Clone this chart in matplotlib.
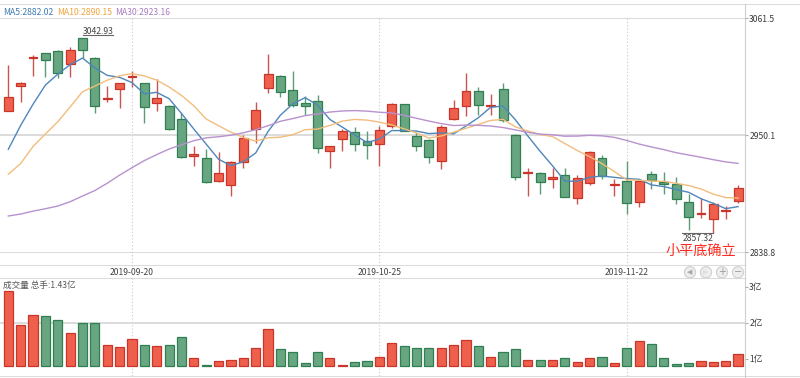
import matplotlib
matplotlib.use('Agg')
import matplotlib.pyplot as plt
import matplotlib.transforms as mtransforms
from matplotlib.patches import Circle
import numpy as np

plt.rcParams['font.family'] = ['Noto Sans CJK SC', 'DejaVu Sans']

# --- data (Shanghai composite, daily) ---
dates = ['2019-09-05', '2019-09-06', '2019-09-09', '2019-09-10', '2019-09-11',
         '2019-09-12', '2019-09-16', '2019-09-17', '2019-09-18', '2019-09-19',
         '2019-09-20', '2019-09-23', '2019-09-24', '2019-09-25', '2019-09-26',
         '2019-09-27', '2019-09-30', '2019-10-08', '2019-10-09', '2019-10-10',
         '2019-10-11', '2019-10-14', '2019-10-15', '2019-10-16', '2019-10-17',
         '2019-10-18', '2019-10-21', '2019-10-22', '2019-10-23', '2019-10-24',
         '2019-10-25', '2019-10-28', '2019-10-29', '2019-10-30', '2019-10-31',
         '2019-11-01', '2019-11-04', '2019-11-05', '2019-11-06', '2019-11-07',
         '2019-11-08', '2019-11-11', '2019-11-12', '2019-11-13', '2019-11-14',
         '2019-11-15', '2019-11-18', '2019-11-19', '2019-11-20', '2019-11-21',
         '2019-11-22', '2019-11-25', '2019-11-26', '2019-11-27', '2019-11-28',
         '2019-11-29', '2019-12-02', '2019-12-03', '2019-12-04', '2019-12-05']

opens = [2973.3, 2997.1, 3023.5, 3027.9, 3030.4, 3017.4, 3042.1, 3023.7, 2984.1, 2993.6,
         3005.3, 2999.3, 2980.3, 2977.7, 2965.1, 2929.8, 2928.6, 2906.7, 2902.6, 2924.8,
         2955.5, 2994.6, 3006.3, 2993.0, 2980.3, 2982.5, 2935.2, 2946.3, 2953.3, 2944.4,
         2941.6, 2958.7, 2979.3, 2949.2, 2945.4, 2925.4, 2965.1, 2977.7, 2992.0, 2978.0,
         2993.9, 2950.1, 2913.7, 2913.7, 2908.3, 2912.1, 2890.5, 2904.1, 2928.6, 2903.0,
         2906.7, 2886.1, 2912.7, 2905.0, 2903.2, 2886.1, 2874.5, 2870.5, 2877.5, 2887.7]
highs = [3016.8, 3000.6, 3026.3, 3028.5, 3031.0, 3034.2, 3042.93, 3024.2, 2996.8, 2999.6,
         3011.4, 3000.0, 3003.4, 2978.3, 2970.8, 2940.0, 2936.8, 2934.3, 2925.2, 2950.1,
         2981.9, 3026.9, 3007.0, 3011.1, 2987.3, 2987.9, 2940.0, 2955.5, 2958.1, 2954.0,
         2958.7, 2981.0, 2980.0, 2953.3, 2946.0, 2959.7, 2983.5, 3009.5, 2995.5, 2989.2,
         2999.3, 2951.0, 2919.0, 2914.5, 2918.4, 2918.4, 2912.1, 2935.0, 2931.1, 2907.9,
         2925.4, 2907.0, 2915.9, 2914.6, 2910.5, 2893.7, 2889.9, 2886.0, 2882.9, 2902.6]
lows = [2973.0, 2981.9, 3006.3, 3005.7, 3004.7, 3005.7, 3023.1, 2971.4, 2981.9, 2975.5,
        2996.1, 2961.3, 2973.3, 2955.0, 2928.0, 2921.0, 2904.2, 2905.0, 2892.4, 2918.4,
        2942.9, 2989.8, 2986.6, 2976.5, 2969.2, 2933.3, 2918.4, 2935.2, 2935.2, 2927.0,
        2921.0, 2957.0, 2954.0, 2935.2, 2923.8, 2917.5, 2964.0, 2968.2, 2969.2, 2969.2,
        2962.8, 2907.3, 2892.4, 2894.0, 2900.0, 2891.0, 2884.5, 2903.0, 2907.9, 2892.4,
        2874.6, 2881.3, 2898.4, 2893.7, 2884.2, 2859.7, 2870.8, 2857.32, 2869.9, 2885.7]
closes = [2985.86, 2999.60, 3024.74, 3021.20, 3008.81, 3031.24, 3030.75, 2978.12, 2985.66, 2999.28,
          3006.45, 2977.08, 2985.34, 2955.43, 2929.09, 2932.17, 2905.19, 2913.57, 2924.86, 2947.71,
          2973.66, 3007.88, 2991.05, 2978.71, 2977.33, 2938.14, 2939.62, 2954.38, 2941.62, 2940.92,
          2954.93, 2980.05, 2954.18, 2939.32, 2929.06, 2958.20, 2975.49, 2991.56, 2978.60, 2978.71,
          2964.18, 2909.97, 2914.82, 2905.24, 2909.87, 2891.34, 2909.20, 2933.99, 2911.05, 2903.64,
          2885.29, 2906.17, 2907.06, 2903.19, 2889.69, 2871.98, 2875.81, 2884.70, 2878.12, 2899.47]
# closes of the 29 sessions before the first candle (for the moving averages)
prior_closes = [2944, 2941, 2953, 2932, 2908, 2868, 2821, 2777, 2768, 2794,
                2774, 2815, 2797, 2808, 2815, 2823, 2883, 2880, 2880, 2883,
                2897, 2863, 2902, 2893, 2890, 2886, 2924, 2930, 2957]
# volume, 亿手
volumes = [2.90, 1.93, 2.21, 2.18, 2.07, 1.71, 1.99, 2.01, 1.38, 1.33,
           1.55, 1.38, 1.35, 1.38, 1.62, 1.01, 0.83, 0.93, 0.96, 1.02,
           1.31, 1.83, 1.26, 1.19, 0.89, 1.19, 1.01, 0.83, 0.91, 0.94,
           1.05, 1.44, 1.37, 1.30, 1.31, 1.30, 1.38, 1.52, 1.35, 1.05,
           1.19, 1.27, 0.97, 0.97, 0.97, 1.02, 0.91, 1.03, 1.05, 0.88,
           1.30, 1.51, 1.41, 1.01, 0.85, 0.88, 0.95, 0.91, 0.94, 1.13]

tick_dates = ['2019-09-20', '2019-10-25', '2019-11-22']
price_ticks = [2838.8, 2950.1, 3061.5]
vol_ticks = [1, 2, 3]
vol_tick_labels = ['1亿', '2亿', '3亿']
ma_periods = [5, 10, 30]
ma_colors = ['#4f86bb', '#f2bd7c', '#b891cf']
ma_text_colors = ['#3f7bb3', '#eea53f', '#a77cc2']
note_text = '小平底确立'
vol_title = '成交量 总手:1.43亿'

UP_FILL, UP_EDGE, UP_WICK = '#ef604c', '#c8352b', '#c75650'
DN_FILL, DN_EDGE, DN_WICK = '#68a682', '#2f7f52', '#5a9d76'
GRID = '#dcdcdc'
FS = 6.2

W, H = 800, 378

o = np.array(opens)
h = np.array(highs)
l = np.array(lows)
c = np.array(closes)
v = np.array(volumes)
x = np.arange(len(c))
up = c >= o

allc = np.concatenate([prior_closes, c])
n0 = len(prior_closes)
mas = []
for p in ma_periods:
    mas.append(np.array([allc[i + n0 - p + 1:i + n0 + 1].mean() for i in x]))

fig = plt.figure(figsize=(W / 100, H / 100), dpi=100)
fig.patch.set_facecolor('white')

bg = fig.add_axes([0, 0, 1, 1], zorder=0)
bg.set_xlim(0, W)
bg.set_ylim(H, 0)
bg.axis('off')

ax = fig.add_axes([0, 1 - 252 / H, 745 / W, 234 / H], zorder=1)
axv = fig.add_axes([0, 1 - 376 / H, 745 / W, 98 / H], zorder=1)

fg = fig.add_axes([0, 0, 1, 1], zorder=3)
fg.set_xlim(0, W)
fg.set_ylim(H, 0)
fg.axis('off')
fg.patch.set_alpha(0)

for a in (ax, axv):
    a.patch.set_alpha(0)
    for s in a.spines.values():
        s.set_visible(False)
    a.set_xlim(-0.671, 59.56)
    a.set_xticks([])
    a.yaxis.tick_right()
    a.tick_params(axis='y', length=2, width=0.8, color='#b0b0b0', pad=1,
                  labelsize=FS, labelcolor='#3a3a3a')

# frame lines
for yy, x1 in [(4, W), (18, 745), (252, 745), (265, 745), (278, 745), (376, W)]:
    bg.plot([0, x1], [yy, yy], color=GRID, lw=0.8)
bg.plot([745, 745], [4, H], color='#cfcfcf', lw=0.8)

# date dotted lines + labels
blend = mtransforms.blended_transform_factory(ax.transData, bg.transData)
blend_fg = mtransforms.blended_transform_factory(ax.transData, fg.transData)
for d in tick_dates:
    i = dates.index(d)
    for y0, y1 in [(18, 266), (278, 376)]:
        bg.plot([i, i], [y0, y1], color='#c8c8c8', lw=0.8, ls=(0, (1, 2)), transform=blend)
    fg.text(i, 272.5, d, transform=blend_fg, ha='center', va='center', fontsize=FS, color='#444444')

# price panel
ax.set_ylim(price_ticks[0], price_ticks[-1])
ax.set_yticks(price_ticks)
ax.set_yticklabels(['%.1f' % t for t in price_ticks])
ax.axhline(price_ticks[1], color=GRID, lw=1.4, zorder=0)

ax.vlines(x[up], l[up], h[up], color=UP_WICK, lw=1.0, zorder=2)
ax.vlines(x[~up], l[~up], h[~up], color=DN_WICK, lw=1.0, zorder=2)
body_lo = np.minimum(o, c)
body_h = np.maximum(np.abs(c - o), 0.9)
ax.bar(x[up], body_h[up], bottom=body_lo[up], width=0.72,
       color=UP_FILL, edgecolor=UP_EDGE, lw=0.9, zorder=3)
ax.bar(x[~up], body_h[~up], bottom=body_lo[~up], width=0.72,
       color=DN_FILL, edgecolor=DN_EDGE, lw=0.9, zorder=3)

for ma, col in zip(mas, ma_colors):
    ax.plot(x, ma, color=col, lw=1.0, zorder=4)

# high / low marks
fig.canvas.draw()
renderer = fig.canvas.get_renderer()
ih, il = int(np.argmax(h)), int(np.argmin(l))
hi_txt = ax.annotate('%.2f' % h[ih], (ih, h[ih]), xytext=(0, 3.5), textcoords='offset pixels',
                     ha='left', va='baseline', fontsize=FS, color='#444444', zorder=5)
lo_txt = ax.annotate('%.2f' % l[il], (il, l[il]), xytext=(0, -1.5), textcoords='offset pixels',
                     ha='right', va='top', fontsize=FS, color='#444444', zorder=5)
fig.canvas.draw()
inv = fg.transData.inverted()
for txt, idx, val, dy in [(hi_txt, ih, h[ih], 2.5), (lo_txt, il, l[il], 0)]:
    bb = txt.get_window_extent(renderer)
    px, py = ax.transData.transform((idx, val))
    (xa, ya), (xb, _) = inv.transform([(bb.x0, py + dy), (bb.x1, py + dy)])
    fg.plot([xa, xb], [ya, ya], color='#666666', lw=0.8)

# volume panel
axv.set_ylim(0.522, 3.25)
axv.set_yticks(vol_ticks)
axv.set_yticklabels(vol_tick_labels)
axv.axhline(2, color=GRID, lw=1.4, zorder=0)
base = 0.8
axv.bar(x[up], v[up] - base, bottom=base, width=0.74,
        color=UP_FILL, edgecolor=UP_EDGE, lw=0.9, zorder=3)
axv.bar(x[~up], v[~up] - base, bottom=base, width=0.74,
        color=DN_FILL, edgecolor=DN_EDGE, lw=0.9, zorder=3)

# legend texts, placed one after another
xp = 3
for p, ma, col in zip(ma_periods, mas, ma_text_colors):
    t = fg.text(xp, 12.5, 'MA%d:%.2f' % (p, ma[-1]), ha='left', va='center', fontsize=FS, color=col)
    bb = t.get_window_extent(renderer)
    xp = inv.transform((bb.x1, bb.y0))[0] + 3.5
fg.text(3, 285.5, vol_title, ha='left', va='center', fontsize=FS, color='#555555')

fg.text(665, 250.5, note_text, ha='left', va='center', fontsize=10.2, color='#ff2a1f')

# navigation buttons
for bx, sym, col in [(690, '◀', '#a8a8a8'), (706, '▶', '#e0e0e0'),
                     (722, '+', '#9a9a9a'), (738, '−', '#9a9a9a')]:
    fg.add_patch(Circle((bx, 272.3), 5.6, fc='#eeeeee', ec='#cfcfcf', lw=0.8))
    fg.text(bx, 272.3, sym, ha='center', va='center', fontsize=5.0 if sym in '◀▶' else 7,
            color=col, family='DejaVu Sans')

fig.savefig('out.png', dpi=100)
